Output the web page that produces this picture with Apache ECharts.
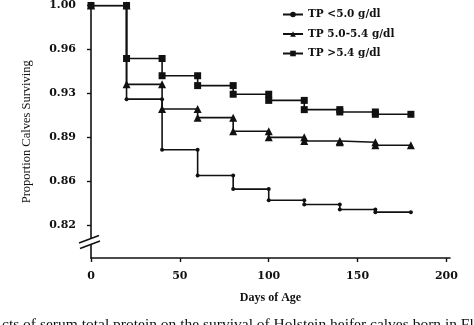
<!DOCTYPE html>
<html>
<head>
<meta charset="utf-8">
<script src="https://cdn.jsdelivr.net/npm/echarts@6/dist/echarts.min.js"></script>
<style>
html,body{margin:0;padding:0;background:#fff;}
#c{width:474px;height:325px;}
</style>
</head>
<body>
<div id="c"></div>
<script>
// ---- data ----
const days = [0, 20, 40, 60, 80, 100, 120, 140, 160, 180];
const seriesNames = ['TP <5.0 g/dl', 'TP 5.0-5.4 g/dl', 'TP >5.4 g/dl'];
// survival level over each interval [days[i], days[i+1]]
const lowTP  = [1.00, 0.924, 0.883, 0.862, 0.851, 0.842, 0.8385, 0.8345, 0.8323];
const midTP  = [1.00, 0.936, 0.916, 0.909, 0.898, 0.893, 0.890, 0.889, 0.8866];
const highTP = [1.00, 0.957, 0.943, 0.935, 0.928, 0.923, 0.9155, 0.9136, 0.9117];
const xTickValues = [0, 50, 100, 150, 200];
const yTickValues = [23/28, 24/28, 25/28, 26/28, 27/28, 28/28];
const xAxisName = 'Days of Age';
const yAxisName = 'Proportion Calves Surviving';
const caption = 'cts of serum total protein on the survival of Holstein heifer calves born in Fl';

function stepPoints(levels) {
  const pts = [];
  for (let i = 0; i < levels.length; i++) {
    pts.push([days[i], levels[i]]);
    pts.push([days[i + 1], levels[i]]);
  }
  return pts;
}

const serif = '"Liberation Serif", "DejaVu Serif", serif';
const wideSerif = '"DejaVu Serif", "Liberation Serif", serif';
const ink = '#111';
const chart = echarts.init(document.getElementById('c'));

const mk = (name, levels, symbol, size) => ({
  name: name,
  type: 'line',
  data: stepPoints(levels),
  symbol: symbol,
  symbolSize: size,
  showAllSymbol: true,
  lineStyle: { color: ink, width: 1.6 },
  itemStyle: { color: ink },
  animation: false,
  z: 3
});

chart.setOption({
  animation: false,
  backgroundColor: '#fff',
  grid: { left: 91, right: 24, top: 3.3, bottom: 67, containLabel: false },
  legend: {
    orient: 'vertical',
    left: 282,
    top: 9,
    padding: 0,
    itemWidth: 20,
    itemHeight: 7,
    itemGap: 8.5,
    data: seriesNames,
    textStyle: { fontFamily: wideSerif, fontWeight: 'bold', fontSize: 10.5, color: ink },
    inactiveColor: '#999'
  },
  xAxis: {
    type: 'value',
    min: 0,
    max: 202,
    name: xAxisName,
    nameLocation: 'middle',
    nameGap: 34,
    nameTextStyle: { fontFamily: serif, fontWeight: 'bold', fontSize: 12, color: ink },
    axisLine: { show: true, lineStyle: { color: ink, width: 1.6 } },
    axisTick: { show: true, length: 4, inside: false, customValues: xTickValues, lineStyle: { color: ink, width: 1.4 } },
    axisLabel: { customValues: xTickValues, margin: 13, fontFamily: wideSerif, fontWeight: 'bold', fontSize: 11, color: ink },
    splitLine: { show: false }
  },
  yAxis: {
    type: 'value',
    min: 0.7951,
    max: 1.0,
    name: yAxisName,
    nameLocation: 'middle',
    nameGap: 58,
    nameRotate: 90,
    nameTextStyle: { fontFamily: serif, fontSize: 12.5, color: ink },
    axisLine: { show: true, lineStyle: { color: ink, width: 1.6 } },
    axisTick: { show: true, length: 4, customValues: yTickValues, lineStyle: { color: ink, width: 1.4 } },
    axisLabel: {
      customValues: yTickValues, margin: 15,
      fontFamily: wideSerif, fontWeight: 'bold', fontSize: 11, color: ink,
      formatter: v => v.toFixed(2)
    },
    splitLine: { show: false }
  },
  series: [
    mk(seriesNames[0], lowTP, 'circle', 4),
    mk(seriesNames[1], midTP, 'triangle', 8),
    mk(seriesNames[2], highTP, 'rect', 7)
  ]
});

// axis break marks + caption
const p = chart.convertToPixel({ xAxisIndex: 0, yAxisIndex: 0 }, [0, 0.8085]);
const ax = p[0], ay = p[1];
chart.setOption({
  graphic: [
    { type: 'rect', shape: { x: ax - 3, y: ay - 3, width: 6, height: 6 }, style: { fill: '#fff' }, z: 10 },
    { type: 'line', shape: { x1: ax - 12, y1: ay + 1.5, x2: ax + 8, y2: ay - 6 }, style: { stroke: ink, lineWidth: 1.6 }, z: 11 },
    { type: 'line', shape: { x1: ax - 11, y1: ay + 7, x2: ax + 9, y2: ay - 0.5 }, style: { stroke: ink, lineWidth: 1.6 }, z: 11 },
    { type: 'text', left: 2, top: 317, style: { text: caption, font: '15.5px ' + serif, fill: ink }, z: 11 }
  ]
});
</script>
</body>
</html>
